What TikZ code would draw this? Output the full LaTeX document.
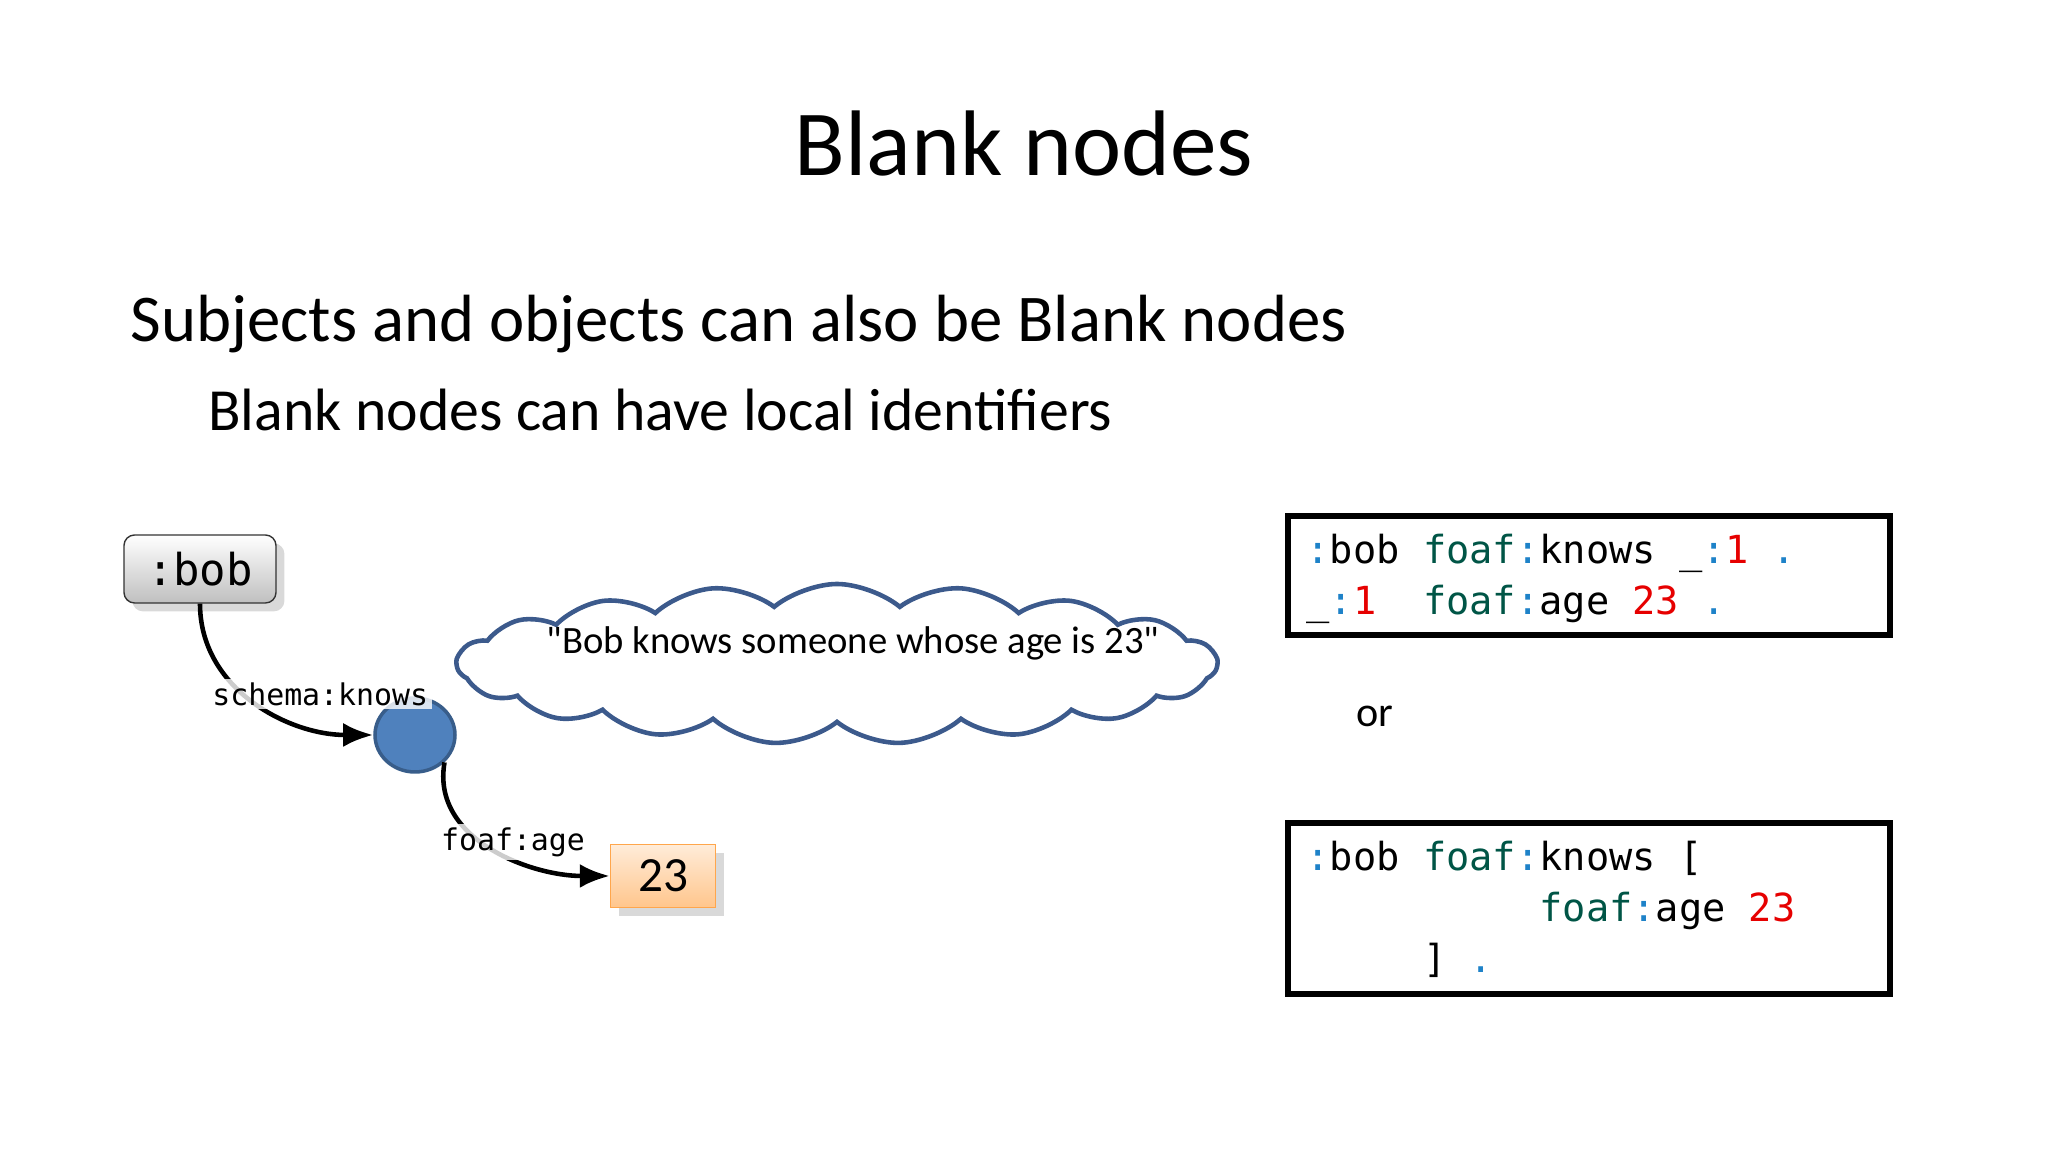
\documentclass[tikz,border=0pt]{standalone}
\usepackage{fontspec}
\setmainfont{Carlito}
\setmonofont{DejaVu Sans Mono}
\usetikzlibrary{positioning, arrows.meta, shapes.symbols, shapes.geometric, shadows}
\definecolor{foafgreen}{RGB}{0,85,70}
\definecolor{punctblue}{RGB}{30,130,200}
\definecolor{litred}{RGB}{230,0,0}
\definecolor{cloudblue}{RGB}{60,90,140}
\definecolor{blankfill}{RGB}{79,129,189}
\definecolor{blankline}{RGB}{56,93,138}
\newcommand{\pc}[1]{\textcolor{punctblue}{#1}}
\newcommand{\pf}[1]{\textcolor{foafgreen}{#1}}
\newcommand{\pl}[1]{\textcolor{litred}{#1}}

\begin{document}
\begin{tikzpicture}[
    iri/.style={draw=black!80, rounded corners=3pt, top color=white, bottom color=black!25,
        minimum width=1.52cm, minimum height=0.68cm, font=\fontsize{12.5}{15}\selectfont\ttfamily,
        drop shadow={opacity=0.3}},
    blank/.style={ellipse, draw=blankline, line width=1pt, fill=blankfill,
        minimum width=0.8cm, minimum height=0.74cm},
    literal/.style={draw=orange!70, top color=orange!15, bottom color=orange!45,
        minimum width=1.05cm, minimum height=0.63cm, font=\fontsize{14}{16}\selectfont,
        drop shadow={opacity=0.3}},
    edge/.style={line width=1.3pt, -{Latex[length=3mm,width=2.4mm]}},
    lbl/.style={fill=white, fill opacity=0.8, text opacity=1, inner sep=1pt, font=\fontsize{8.5}{10}\selectfont\ttfamily},
    code/.style={draw, line width=1.5pt, anchor=north west},
    codeline/.style={anchor=base west, inner sep=0pt, font=\fontsize{11}{13}\selectfont\ttfamily}
]
\useasboundingbox (0,0) rectangle (20.48,11.52);

% headings
\node (title) at (10.24,10.08) {\fontsize{26.5}{30}\selectfont Blank nodes};
\node[anchor=base west] (sub) at (1.18,8.10) {\fontsize{19}{22}\selectfont Subjects and objects can also be Blank nodes};
\node[anchor=base west] (sub2) at (1.96,7.21) {\fontsize{17}{20}\selectfont Blank nodes can have local identifiers};

% graph
\node[iri] (bob) at (2.0,5.83) {:bob};
\node[blank] (b1) at (4.15,4.17) {};
\node[literal] (age) at (6.63,2.76) {23};
\node[cloud, cloud puffs=19, cloud puff arc=80, aspect=4.6, draw=cloudblue, line width=1.3pt,
    minimum width=7.6cm, minimum height=1.6cm] (cloud) at (8.37,4.88) {};
\node[font=\fontsize{11}{13}\selectfont] (note) at (8.53,5.09) {\textquotedbl Bob knows someone whose age is 23\textquotedbl};

\draw[edge] (bob.south) to[out=-90,in=180] node[lbl, pos=0.45, xshift=0.75cm] {schema:knows} (b1.west);
\draw[edge] (b1.south east) to[out=-100,in=180] node[lbl, pos=0.45, xshift=0.3cm] {foaf:age} (age.west);

% turtle code
\draw[code] (12.88,6.36) rectangle (18.90,5.17);
\node[codeline] (l1) at (13.06,5.88) {\pc{:}bob\ \pf{foaf}\pc{:}knows\ \_\pc{:}\pl{1}\ \pc{.}};
\node[codeline] (l2) at (13.06,5.37) {\_\pc{:}\pl{1}\ \ \pf{foaf}\pc{:}age\ \pl{23}\ \pc{.}};

\node[font=\fontsize{12}{14}\selectfont] (or) at (13.75,4.36) {or};

\draw[code] (12.88,3.29) rectangle (18.90,1.58);
\node[codeline] (m1) at (13.06,2.81) {\pc{:}bob\ \pf{foaf}\pc{:}knows\ [};
\node[codeline] (m2) at (13.06,2.30) {\ \ \ \ \ \ \ \ \ \ \pf{foaf}\pc{:}age\ \pl{23}};
\node[codeline] (m3) at (13.06,1.79) {\ \ \ \ \ ]\ \pc{.}};
\end{tikzpicture}
\end{document}
